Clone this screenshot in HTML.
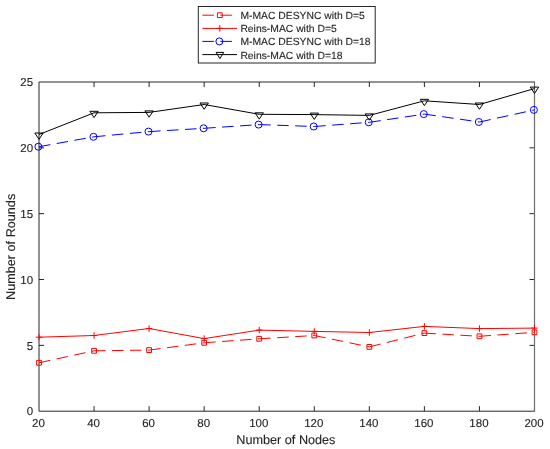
<!DOCTYPE html><html><head><meta charset="utf-8"><style>html,body{margin:0;padding:0;background:#fff;width:550px;height:449px;overflow:hidden}svg{display:block}text{font-family:"Liberation Sans",Arial,sans-serif;fill:#262626;stroke:#262626;stroke-width:0.12;text-rendering:geometricPrecision}</style></head><body>
<svg width="550" height="449" viewBox="0 0 550 449">
<rect x="0" y="0" width="550" height="449" fill="#fff"/>
<path d="M94.06 411.2V406.2M94.06 82V87M149.11 411.2V406.2M149.11 82V87M204.17 411.2V406.2M204.17 82V87M259.22 411.2V406.2M259.22 82V87M314.28 411.2V406.2M314.28 82V87M369.33 411.2V406.2M369.33 82V87M424.39 411.2V406.2M424.39 82V87M479.44 411.2V406.2M479.44 82V87M39 345.36H44M534.5 345.36H529.5M39 279.52H44M534.5 279.52H529.5M39 213.68H44M534.5 213.68H529.5M39 147.84H44M534.5 147.84H529.5" stroke="#262626" stroke-width="1.0" fill="none"/>
<path d="M534.5 82H39V411.2H534.5" fill="none" stroke="#262626" stroke-width="1.0"/>
<path d="M534.5 81.5V411.7" fill="none" stroke="#707070" stroke-width="1.25"/>
<g stroke="#ff0000" stroke-width="1.0" fill="none" stroke-dasharray="11.5 6.5"><line x1="39" y1="362.8" x2="94.06" y2="350.8"/><line x1="94.06" y1="350.8" x2="149.11" y2="350.1"/><line x1="149.11" y1="350.1" x2="204.17" y2="342.8"/><line x1="204.17" y1="342.8" x2="259.22" y2="338.8"/><line x1="259.22" y1="338.8" x2="314.28" y2="335.5"/><line x1="314.28" y1="335.5" x2="369.33" y2="346.9"/><line x1="369.33" y1="346.9" x2="424.39" y2="333.1"/><line x1="424.39" y1="333.1" x2="479.44" y2="336.3"/><line x1="479.44" y1="336.3" x2="534.5" y2="332.3"/></g>
<path d="M36.6 360.4h4.8v4.8h-4.8zM91.66 348.4h4.8v4.8h-4.8zM146.71 347.7h4.8v4.8h-4.8zM201.77 340.4h4.8v4.8h-4.8zM256.82 336.4h4.8v4.8h-4.8zM311.88 333.1h4.8v4.8h-4.8zM366.93 344.5h4.8v4.8h-4.8zM421.99 330.7h4.8v4.8h-4.8zM477.04 333.9h4.8v4.8h-4.8zM532.1 329.9h4.8v4.8h-4.8z" fill="none" stroke="#ff0000" stroke-width="1.0"/>
<polyline points="39,337.2 94.06,335.5 149.11,328.5 204.17,338.6 259.22,330.1 314.28,331.4 369.33,332.5 424.39,326.4 479.44,328.6 534.5,328.1" fill="none" stroke="#ff0000" stroke-width="1.0"/>
<path d="M35.75 337.2H42.25M39 333.95V340.45M90.81 335.5H97.31M94.06 332.25V338.75M145.86 328.5H152.36M149.11 325.25V331.75M200.92 338.6H207.42M204.17 335.35V341.85M255.97 330.1H262.47M259.22 326.85V333.35M311.03 331.4H317.53M314.28 328.15V334.65M366.08 332.5H372.58M369.33 329.25V335.75M421.14 326.4H427.64M424.39 323.15V329.65M476.19 328.6H482.69M479.44 325.35V331.85M531.25 328.1H537.75M534.5 324.85V331.35" fill="none" stroke="#ff0000" stroke-width="1.0"/>
<g stroke="#0000ff" stroke-width="1.0" fill="none" stroke-dasharray="11.5 6.5"><line x1="39" y1="146.7" x2="94.06" y2="136.8"/><line x1="94.06" y1="136.8" x2="149.11" y2="131.6"/><line x1="149.11" y1="131.6" x2="204.17" y2="128.3"/><line x1="204.17" y1="128.3" x2="259.22" y2="124.6"/><line x1="259.22" y1="124.6" x2="314.28" y2="126.5"/><line x1="314.28" y1="126.5" x2="369.33" y2="122.3"/><line x1="369.33" y1="122.3" x2="424.39" y2="114.1"/><line x1="424.39" y1="114.1" x2="479.44" y2="122"/><line x1="479.44" y1="122" x2="534.5" y2="109.9"/></g>
<g fill="none" stroke="#0000ff" stroke-width="1.0"><circle cx="38.4" cy="146.7" r="3.5"/><circle cx="93.46" cy="136.8" r="3.5"/><circle cx="148.51" cy="131.6" r="3.5"/><circle cx="203.57" cy="128.3" r="3.5"/><circle cx="258.62" cy="124.6" r="3.5"/><circle cx="313.68" cy="126.5" r="3.5"/><circle cx="368.73" cy="122.3" r="3.5"/><circle cx="423.79" cy="114.1" r="3.5"/><circle cx="478.84" cy="122" r="3.5"/><circle cx="533.9" cy="109.9" r="3.5"/></g>
<polyline points="39,134.5 94.06,112.8 149.11,112.4 204.17,104.5 259.22,114.3 314.28,114.6 369.33,115.4 424.39,100.8 479.44,104.5 534.5,88.6" fill="none" stroke="#000000" stroke-width="1.0"/>
<path d="M34.8 133H43.2L39 139.3zM89.86 111.3H98.26L94.06 117.6zM144.91 110.9H153.31L149.11 117.2zM199.97 103H208.37L204.17 109.3zM255.02 112.8H263.42L259.22 119.1zM310.08 113.1H318.48L314.28 119.4zM365.13 113.9H373.53L369.33 120.2zM420.19 99.3H428.59L424.39 105.6zM475.24 103H483.64L479.44 109.3zM530.3 87.1H538.7L534.5 93.4z" fill="none" stroke="#000000" stroke-width="1.0"/>
<text x="38.5" y="427.3" font-size="11.5" text-anchor="middle">20</text>
<text x="93.56" y="427.3" font-size="11.5" text-anchor="middle">40</text>
<text x="148.61" y="427.3" font-size="11.5" text-anchor="middle">60</text>
<text x="203.67" y="427.3" font-size="11.5" text-anchor="middle">80</text>
<text x="258.72" y="427.3" font-size="11.5" text-anchor="middle">100</text>
<text x="313.78" y="427.3" font-size="11.5" text-anchor="middle">120</text>
<text x="368.83" y="427.3" font-size="11.5" text-anchor="middle">140</text>
<text x="423.89" y="427.3" font-size="11.5" text-anchor="middle">160</text>
<text x="478.94" y="427.3" font-size="11.5" text-anchor="middle">180</text>
<text x="534" y="427.3" font-size="11.5" text-anchor="middle">200</text>
<text x="33.1" y="415.4" font-size="11.5" text-anchor="end">0</text>
<text x="33.1" y="349.56" font-size="11.5" text-anchor="end">5</text>
<text x="33.1" y="283.72" font-size="11.5" text-anchor="end">10</text>
<text x="33.1" y="217.88" font-size="11.5" text-anchor="end">15</text>
<text x="33.1" y="152.04" font-size="11.5" text-anchor="end">20</text>
<text x="33.1" y="86.2" font-size="11.5" text-anchor="end">25</text>
<text x="285.9" y="443.6" font-size="12.65" text-anchor="middle">Number of Nodes</text>
<text transform="translate(14.5 246.85) rotate(-90)" x="0" y="0" font-size="12.65" text-anchor="middle">Number of Rounds</text>
<rect x="198.3" y="6.5" width="176.9" height="56.5" fill="#fff" stroke="#262626" stroke-width="1.0"/>
<line x1="202.4" y1="15.2" x2="237.0" y2="15.2" stroke="#ff0000" stroke-width="1.0" stroke-dasharray="11.5 6.5"/>
<path d="M217.4 12.8h4.8v4.8h-4.8z" fill="none" stroke="#ff0000" stroke-width="1.0"/>
<line x1="202.4" y1="28.4" x2="237.0" y2="28.4" stroke="#ff0000" stroke-width="1.0"/>
<path d="M216.55 28.4H223.05M219.8 25.15V31.65" fill="none" stroke="#ff0000" stroke-width="1.0"/>
<line x1="202.4" y1="41.4" x2="237.0" y2="41.4" stroke="#0000ff" stroke-width="1.0" stroke-dasharray="11.5 6.5"/>
<g fill="none" stroke="#0000ff" stroke-width="1.0"><circle cx="219.4" cy="41.4" r="3.5"/></g>
<line x1="202.4" y1="54.6" x2="237.0" y2="54.6" stroke="#000000" stroke-width="1.0"/>
<path d="M216.1 52.4H223.7L219.9 58.6z" fill="none" stroke="#000000" stroke-width="1.0"/>
<text x="240.4" y="19" font-size="10.35" fill="#000" stroke="#000" stroke-width="0.25">M-MAC DESYNC with D=5</text>
<text x="240.4" y="32.2" font-size="10.35" fill="#000" stroke="#000" stroke-width="0.25">Reins-MAC with D=5</text>
<text x="240.4" y="45.4" font-size="10.35" fill="#000" stroke="#000" stroke-width="0.25">M-MAC DESYNC with D=18</text>
<text x="240.4" y="58.6" font-size="10.35" fill="#000" stroke="#000" stroke-width="0.25">Reins-MAC with D=18</text>
</svg></body></html>
